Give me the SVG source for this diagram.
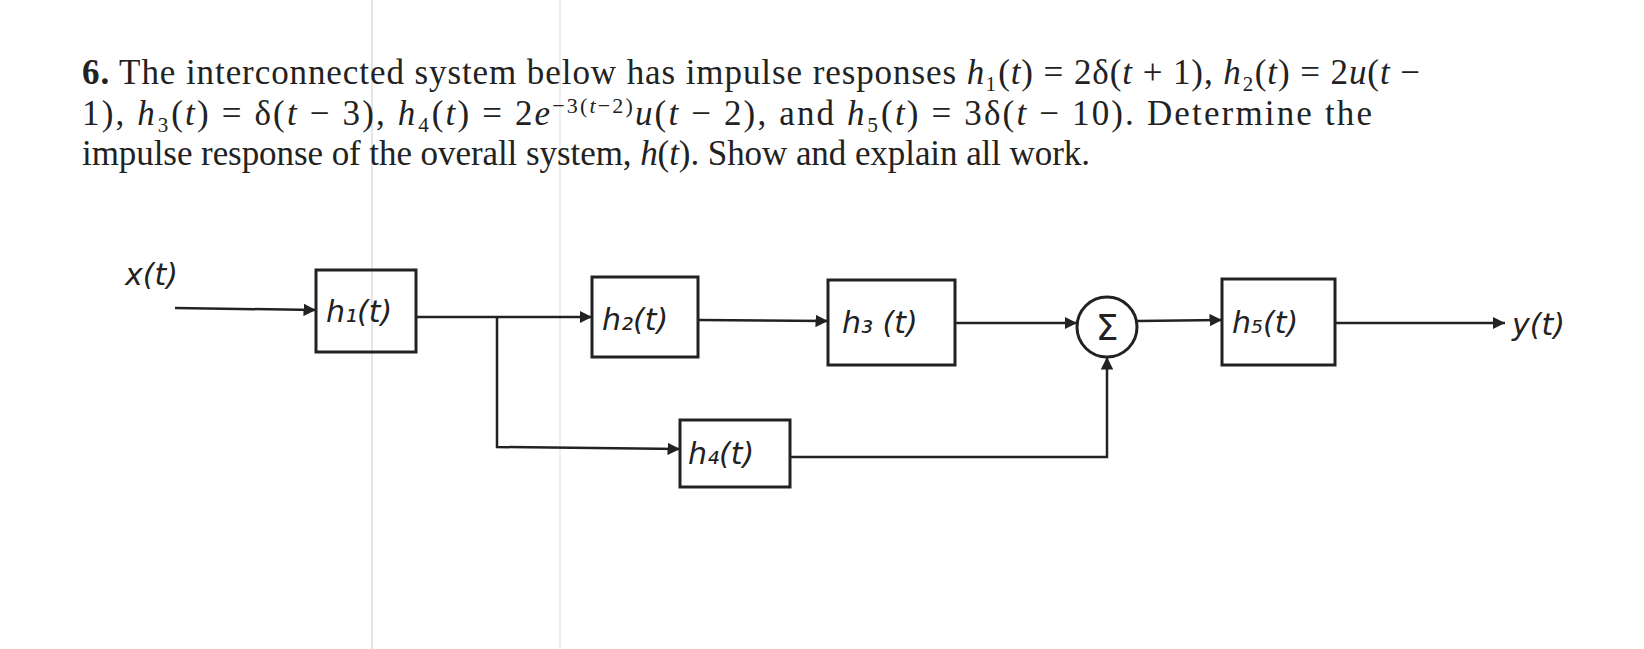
<svg xmlns="http://www.w3.org/2000/svg" width="1644" height="649" viewBox="0 0 1644 649">
<style>
.t{font-family:"Liberation Serif",serif;font-size:35px;fill:#222}
.i{font-style:italic}
.h{font-family:"DejaVu Sans",sans-serif;font-size:30px;fill:#222;font-style:italic}
.s{font-family:"DejaVu Sans",sans-serif;font-size:36px;fill:#222}
.b{fill:none;stroke:#222;stroke-width:3}
.c line,.c polyline{fill:none;stroke:#222;stroke-width:2.5}
</style>
<defs><marker id="a" viewBox="0 0 10 10" refX="10" refY="5" markerWidth="5" markerHeight="5" orient="auto"><path d="M0,0L10,5L0,10z" fill="#222"/></marker></defs>
<rect width="1644" height="649" fill="#fff"/>
<line x1="372" y1="0" x2="372" y2="649" stroke="#e6e6e6" stroke-width="2"/>
<line x1="560" y1="0" x2="560" y2="649" stroke="#eeeeee" stroke-width="2"/>
<text class="t" x="82" y="84" textLength="1338" lengthAdjust="spacing"><tspan font-weight="bold">6.</tspan> The interconnected system below has impulse responses <tspan class="i">h</tspan>₁(<tspan class="i">t</tspan>) = 2δ(<tspan class="i">t</tspan> + 1), <tspan class="i">h</tspan>₂(<tspan class="i">t</tspan>) = 2<tspan class="i">u</tspan>(<tspan class="i">t</tspan> −</text>
<text class="t" x="82" y="125" textLength="1290" lengthAdjust="spacing">1), <tspan class="i">h</tspan>₃(<tspan class="i">t</tspan>) = δ(<tspan class="i">t</tspan> − 3), <tspan class="i">h</tspan>₄(<tspan class="i">t</tspan>) = 2<tspan class="i">e</tspan><tspan font-size="22" dy="-12">−3(<tspan class="i">t</tspan>−2)</tspan><tspan dy="12" class="i">u</tspan>(<tspan class="i">t</tspan> − 2), and <tspan class="i">h</tspan>₅(<tspan class="i">t</tspan>) = 3δ(<tspan class="i">t</tspan> − 10).  Determine the</text>
<text class="t" x="82" y="165" textLength="1008" lengthAdjust="spacing">impulse response of the overall system, <tspan class="i">h</tspan>(<tspan class="i">t</tspan>). Show and explain all work.</text>
<text class="h" x="125" y="285">x(t)</text>
<text class="h" x="1512" y="335">y(t)</text>
<g class="c">
<line x1="175" y1="308" x2="316" y2="310" marker-end="url(#a)"/>
<line x1="416" y1="317" x2="592" y2="317" marker-end="url(#a)"/>
<polyline points="497,317 497,447 680,449" marker-end="url(#a)"/>
<line x1="698" y1="320" x2="828" y2="321" marker-end="url(#a)"/>
<line x1="955" y1="323" x2="1077" y2="323" marker-end="url(#a)"/>
<line x1="1137" y1="321" x2="1222" y2="320" marker-end="url(#a)"/>
<line x1="1335" y1="323" x2="1505" y2="323" marker-end="url(#a)"/>
<polyline points="790,457 1107,457 1107,357" marker-end="url(#a)"/>
</g>
<g id="h1"><rect class="b" x="316" y="270" width="100" height="82"/><text class="h" x="326" y="322">h₁(t)</text></g>
<g id="h2"><rect class="b" x="592" y="277" width="106" height="80"/><text class="h" x="602" y="330">h₂(t)</text></g>
<g id="h3"><rect class="b" x="828" y="280" width="127" height="85"/><text class="h" x="842" y="333">h₃ (t)</text></g>
<g id="sum"><circle class="b" cx="1107" cy="327" r="30"/><text class="s" x="1107" y="340" text-anchor="middle">Σ</text></g>
<g id="h5"><rect class="b" x="1222" y="279" width="113" height="86"/><text class="h" x="1232" y="333">h₅(t)</text></g>
<g id="h4"><rect class="b" x="680" y="420" width="110" height="67"/><text class="h" x="688" y="464">h₄(t)</text></g>
</svg>
